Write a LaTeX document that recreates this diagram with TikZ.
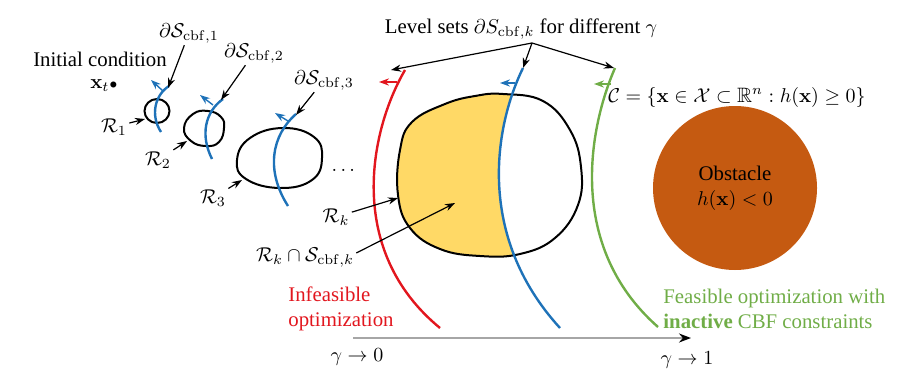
\documentclass[tikz,border=0pt]{standalone}
\usepackage[no-math]{fontspec}
\setmainfont{Liberation Serif}
\usepackage{amsmath,amssymb}
\usetikzlibrary{arrows.meta, positioning}
\definecolor{lsred}{RGB}{226,22,30}
\definecolor{lsblue}{RGB}{30,114,184}
\definecolor{lsgreen}{RGB}{112,173,71}
\definecolor{rkfill}{RGB}{255,217,102}
\definecolor{obsfill}{RGB}{197,90,17}

\begin{document}
\begin{tikzpicture}[
    x=0.5pt, y=-0.5pt,
    >={Stealth[length=5pt,width=3.6pt]},
    font=\fontsize{10.4}{12.5}\selectfont,
    region/.style={draw=black, line width=1pt},
    lset/.style={line width=1.2pt},
    nrm/.style={->, line width=0.7pt},
    pointer/.style={->, line width=0.6pt, color=black},
    lbl/.style={inner sep=1pt},
    obst/.style={circle, fill=obsfill, minimum size=82pt, inner sep=0pt, align=center}
]
\useasboundingbox (0,0) rectangle (904,380);

% Initial condition
\node[lbl, inner sep=0pt] (init) at (100,59) {Initial condition};
\node[lbl, inner sep=0pt] (xt) at (104,86) {$\mathbf{x}_t{\scriptstyle\bullet}$};

% Region 1
\draw[region] (157,111) ellipse [x radius=12.5, y radius=12];
\draw[lset, lsblue] (161,132) .. controls (150,115) and (155,95) .. (169,86);
\coordinate (n1a) at (163,91);
\coordinate (n1b) at (151,80);
\draw[nrm, lsblue] (n1a) -- (n1b);
\node[lbl] (ds1) at (189,33) {$\partial\mathcal{S}_{\mathrm{cbf},1}$};
\coordinate (c1) at (168,88);
\draw[pointer] (ds1) -- (c1);
\node[lbl] (lr1) at (114,127) {$\mathcal{R}_1$};
\coordinate (e1) at (145,119);
\draw[pointer] (lr1) -- (e1);

% Region 2
\draw[region] plot[smooth cycle, tension=0.8] coordinates {(184,128) (193,114) (208,111) (221,117) (224,128) (219,142) (206,146) (191,141)};
\draw[lset, lsblue] (212,159) .. controls (200,135) and (205,112) .. (223,99);
\coordinate (n2a) at (213,105);
\coordinate (n2b) at (200,95);
\draw[nrm, lsblue] (n2a) -- (n2b);
\node[lbl] (ds2) at (254,53) {$\partial\mathcal{S}_{\mathrm{cbf},2}$};
\coordinate (c2) at (221,100);
\draw[pointer] (ds2) -- (c2);
\node[lbl] (lr2) at (158,160) {$\mathcal{R}_2$};
\coordinate (e2) at (187,141);
\draw[pointer] (lr2) -- (e2);

% Region 3
\draw[region] plot[smooth cycle, tension=0.75] coordinates {(237,160) (250,138) (283,128) (314,137) (322,158) (312,180) (280,188) (246,179)};
\draw[lset, lsblue] (288,206) .. controls (265,170) and (272,135) .. (296,114);
\coordinate (n3a) at (288,121);
\coordinate (n3b) at (275,113);
\draw[nrm, lsblue] (n3a) -- (n3b);
\node[lbl] (ds3) at (324,80) {$\partial\mathcal{S}_{\mathrm{cbf},3}$};
\coordinate (c3) at (296,115);
\draw[pointer] (ds3) -- (c3);
\node[lbl] (lr3) at (213,198) {$\mathcal{R}_3$};
\coordinate (e3) at (242,180);
\draw[pointer] (lr3) -- (e3);

\node[lbl] (dots) at (345,170) {$\dots$};

% Region k and safe part
\begin{scope}
  \clip (523,68) .. controls (495,125) and (475,235) .. (560,328) -- (300,328) -- (300,68) -- cycle;
  \fill[rkfill] plot[smooth cycle, tension=0.7] coordinates {(503,94) (543,101) (570,130) (581,167) (578,205) (555,238) (520,254) (480,256) (440,249) (410,228) (398,195) (400,150) (412,122) (445,104) (475,96)};
\end{scope}
\draw[region] plot[smooth cycle, tension=0.7] coordinates {(503,94) (543,101) (570,130) (581,167) (578,205) (555,238) (520,254) (480,256) (440,249) (410,228) (398,195) (400,150) (412,122) (445,104) (475,96)};

% Level sets
\draw[lset, lsred] (405,70) .. controls (370,130) and (345,250) .. (440,328);
\draw[lset, lsblue] (523,68) .. controls (495,125) and (475,235) .. (560,328);
\draw[lset, lsgreen] (615,68) .. controls (590,125) and (565,245) .. (658,327);
\coordinate (nra) at (397,82);
\coordinate (nrb) at (379,82);
\draw[nrm, lsred] (nra) -- (nrb);
\coordinate (nba) at (515,83);
\coordinate (nbb) at (500,83);
\draw[nrm, lsblue] (nba) -- (nbb);
\coordinate (nga) at (611,84);
\coordinate (ngb) at (594,84);
\draw[nrm, lsgreen] (nga) -- (ngb);

\node[lbl] (lvl) at (521,29) {Level sets $\partial S_{\mathrm{cbf},k}$ for different $\gamma$};
\coordinate (hub) at (532,43);
\coordinate (tr) at (391,70);
\coordinate (tb) at (523,68);
\coordinate (tg) at (614,68);
\draw[pointer] (hub) -- (tr);
\draw[pointer] (hub) -- (tb);
\draw[pointer] (hub) -- (tg);

\node[lbl] (lrk) at (336,217) {$\mathcal{R}_k$};
\coordinate (ek) at (398,198);
\draw[pointer] (lrk) -- (ek);
\node[lbl] (lrks) at (305,258) {$\mathcal{R}_k\cap\mathcal{S}_{\mathrm{cbf},k}$};
\coordinate (eks) at (455,203);
\draw[pointer] (lrks.east) ++(0,-5) coordinate (sks) (sks) -- (eks);

% Safe set and obstacle
\node[lbl] (cset) at (737,97) {$\mathcal{C}=\{\mathbf{x}\in\mathcal{X}\subset\mathbb{R}^n : h(\mathbf{x})\geq 0\}$};
\node[obst] (obs) at (735,188) {Obstacle\\$h(\mathbf{x})<0$};

% Outcomes
\node[lbl, anchor=west, align=left, text=lsred] (infs) at (286,309) {Infeasible\\optimization};
\node[lbl, anchor=west, align=left, text=lsgreen] (feas) at (661,309) {Feasible optimization with\\\textbf{inactive} CBF constraints};

% Gamma axis
\coordinate (ax0) at (353,338);
\coordinate (ax1) at (691,338);
\draw[line width=0.8pt, gray!70, -{Stealth[black,length=6pt,width=4.5pt]}] (ax0) -- (ax1);
\node[lbl] (g0) at (357,357) {$\gamma\to 0$};
\node[lbl] (g1) at (687,360) {$\gamma\to 1$};

\end{tikzpicture}
\end{document}
